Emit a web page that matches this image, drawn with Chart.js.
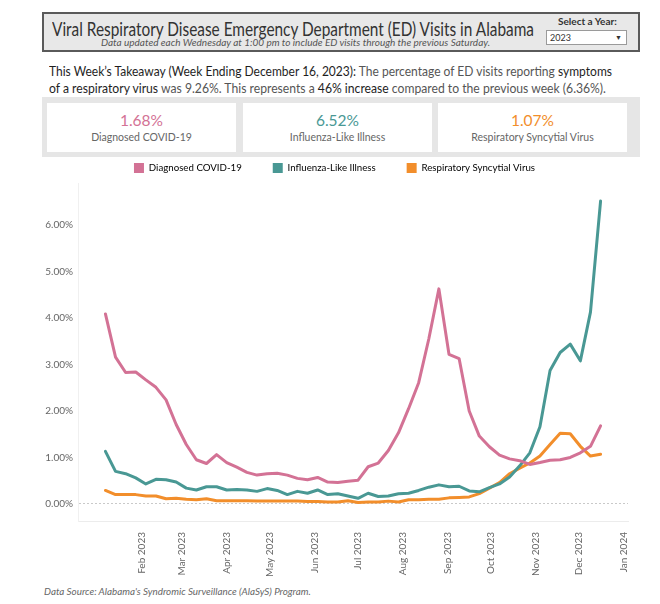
<!DOCTYPE html>
<html><head><meta charset="utf-8">
<script src="https://cdn.jsdelivr.net/npm/chart.js@4.4.1/dist/chart.umd.min.js"></script>
<style>
html,body{margin:0;padding:0;background:#fff;}
body{width:660px;height:604px;position:relative;overflow:hidden;font-family:Lato,"Noto Sans",sans-serif;}
.abs{position:absolute;white-space:nowrap;}
#hdr{left:42px;top:12px;width:594px;height:36px;background:#e8e8e8;border:2px solid #5a5a5a;}
#title{left:52px;top:18px;line-height:22px;font-size:18.5px;color:#333;transform-origin:0 50%;}
#sub{left:101px;top:37px;line-height:12px;font-size:9.5px;font-style:italic;color:#555;transform-origin:0 50%;}
#sel{left:558px;top:15px;line-height:12px;font-size:10px;font-weight:bold;color:#333;}
#dd{left:546px;top:30px;width:79px;height:13px;background:#fff;border:1px solid #9a9a9a;font-size:9px;line-height:13px;color:#333;}
#dd span{position:absolute;left:3px;}
#dd b{position:absolute;right:4px;font-size:7px;font-weight:normal;}
.tk{left:49px;line-height:17px;font-size:13.5px;color:#555;transform-origin:0 50%;}
.tk .d{color:#1e1e1e;}
#band{left:42px;top:97px;width:598px;height:60px;background:#e6e6e6;}
.box{top:103px;width:189px;height:49px;background:#fff;}
.num{position:absolute;left:0;width:100%;text-align:center;top:8px;line-height:18px;font-size:15.5px;}
.lab{position:absolute;left:0;width:100%;text-align:center;top:28px;line-height:12px;font-size:10.5px;color:#666;}
#foot{left:44px;top:585px;line-height:12px;font-size:9.5px;font-style:italic;color:#666;}
#cv{position:absolute;left:0;top:130px;}
</style></head>
<body>
<div id="hdr" class="abs"></div>
<div id="title" class="abs">Viral Respiratory Disease Emergency Department (ED) Visits in Alabama</div>
<div id="sub" class="abs">Data updated each Wednesday at 1:00 pm to include ED visits through the previous Saturday.</div>
<div id="sel" class="abs">Select a Year:</div>
<div id="dd" class="abs"><span>2023</span><b>&#9660;</b></div>
<div id="tk1" class="abs tk" style="top:63px;"><span class="d">This Week’s Takeaway (Week Ending December 16, 2023):</span> The percentage of ED visits reporting <span class="d">symptoms</span></div>
<div id="tk2" class="abs tk" style="top:80px;"><span class="d">of a respiratory virus</span> was 9.26%. This represents a <span class="d">46% increase</span> compared to the previous week (6.36%).</div>
<div id="band" class="abs"></div>
<div class="abs box" style="left:47px;"><div class="num" style="color:#D37295">1.68%</div><div class="lab">Diagnosed COVID-19</div></div>
<div class="abs box" style="left:243px;"><div class="num" style="color:#499894">6.52%</div><div class="lab">Influenza-Like Illness</div></div>
<div class="abs box" style="left:438px;"><div class="num" style="color:#F28E2B">1.07%</div><div class="lab">Respiratory Syncytial Virus</div></div>
<canvas id="cv" width="660" height="446"></canvas>
<div id="foot" class="abs">Data Source: Alabama's Syndromic Surveillance (AlaSyS) Program.</div>
<script>
// ---- data ----
const seriesNames = ['Diagnosed COVID-19', 'Influenza-Like Illness', 'Respiratory Syncytial Virus'];
const weekEnding = [
 '2023-01-07','2023-01-14','2023-01-21','2023-01-28',
 '2023-02-04','2023-02-11','2023-02-18','2023-02-25',
 '2023-03-04','2023-03-11','2023-03-18','2023-03-25',
 '2023-04-01','2023-04-08','2023-04-15','2023-04-22','2023-04-29',
 '2023-05-06','2023-05-13','2023-05-20','2023-05-27',
 '2023-06-03','2023-06-10','2023-06-17','2023-06-24',
 '2023-07-01','2023-07-08','2023-07-15','2023-07-22','2023-07-29',
 '2023-08-05','2023-08-12','2023-08-19','2023-08-26',
 '2023-09-02','2023-09-09','2023-09-16','2023-09-23','2023-09-30',
 '2023-10-07','2023-10-14','2023-10-21','2023-10-28',
 '2023-11-04','2023-11-11','2023-11-18','2023-11-25',
 '2023-12-02','2023-12-09','2023-12-16'];
const covid = [4.09,3.16,2.83,2.84,2.67,2.51,2.24,1.71,1.28,0.95,0.87,1.06,0.89,0.79,0.68,0.62,0.65,
 0.66,0.62,0.55,0.52,0.57,0.47,0.46,0.49,0.51,0.80,0.88,1.15,1.53,2.05,2.61,3.55,4.63,
 3.22,3.13,2.00,1.46,1.23,1.05,0.97,0.93,0.85,0.89,0.94,0.95,1.00,1.10,1.24,1.68];
const ili = [1.13,0.70,0.65,0.56,0.43,0.53,0.52,0.47,0.34,0.30,0.37,0.37,0.30,0.31,0.30,0.27,0.33,
 0.29,0.20,0.27,0.23,0.30,0.20,0.22,0.17,0.12,0.23,0.16,0.17,0.22,0.23,0.29,0.36,0.41,
 0.37,0.38,0.28,0.26,0.35,0.43,0.58,0.82,1.10,1.66,2.87,3.26,3.44,3.08,4.13,6.52];
const rsv = [0.29,0.20,0.20,0.20,0.17,0.17,0.11,0.12,0.10,0.09,0.11,0.07,0.07,0.07,0.07,0.06,0.06,
 0.06,0.06,0.06,0.05,0.05,0.04,0.04,0.07,0.03,0.04,0.04,0.06,0.04,0.09,0.09,0.10,0.10,
 0.13,0.14,0.15,0.22,0.34,0.46,0.65,0.77,0.88,1.03,1.28,1.52,1.51,1.24,1.03,1.07];
const monthTicks = ['2023-02-01','2023-03-01','2023-04-01','2023-05-01','2023-06-01','2023-07-01',
 '2023-08-01','2023-09-01','2023-10-01','2023-11-01','2023-12-01','2024-01-01'];
const monthNames = ['Jan','Feb','Mar','Apr','May','Jun','Jul','Aug','Sep','Oct','Nov','Dec'];
const yTicks = [0,1,2,3,4,5,6];
const colors = ['#D37295','#499894','#F28E2B'];

// ---- fit text widths (horizontal scale keeps the reference's letter height) ----
function fitX(id, w){const el=document.getElementById(id);const cur=el.getBoundingClientRect().width;el.style.transform='scaleX('+(w/cur)+')';}
function fit(id, w){const el=document.getElementById(id);const fs=parseFloat(getComputedStyle(el).fontSize);const cur=el.getBoundingClientRect().width;el.style.fontSize=(fs*w/cur)+'px';}
fitX('title',482); fitX('sub',389); fitX('tk1',563); fitX('tk2',557); fit('foot',267);

const toPts = arr => arr.map((v,i)=>({x:Date.parse(weekEnding[i]), y:v}));
const ds = [covid, ili, rsv].map((arr,i)=>({
  label: seriesNames[i], data: toPts(arr), borderColor: colors[i], backgroundColor: colors[i],
  borderWidth: 3, pointRadius: 0, tension: 0, borderJoinStyle: 'round', borderCapStyle: 'round'
}));

const tickFont = {family: 'Lato, "Noto Sans", sans-serif', size: 10};
new Chart(document.getElementById('cv'), {
  type: 'line',
  data: {datasets: ds},
  options: {
    responsive: false, animation: false, devicePixelRatio: 1,
    layout: {padding: {left: 41, right: 32, top: 2, bottom: 0}},
    plugins: {
      legend: {display: true, position: 'top', align: 'center',
        labels: {boxWidth: 10, boxHeight: 10, padding: 31, color: '#555', font: {family: 'Lato, "Noto Sans", sans-serif', size: 9.7},
          generateLabels: (chart) => chart.data.datasets.map((d,i)=>({text: d.label, fillStyle: colors[i], strokeStyle: colors[i], lineWidth: 0, datasetIndex: i}))}},
      tooltip: {enabled: false}
    },
    scales: {
      x: {type: 'linear', min: Date.UTC(2022,11,19), max: Date.UTC(2024,0,4),
        afterBuildTicks: (s) => { s.ticks = monthTicks.map(d => ({value: Date.parse(d)})); },
        afterFit: (s) => { s.height = 55; },
        ticks: {minRotation: 90, maxRotation: 90, autoSkip: false, padding: 3, color: '#666', font: tickFont,
          callback: (v) => { const d = new Date(v); return monthNames[d.getUTCMonth()] + ' ' + d.getUTCFullYear(); }},
        grid: {display: false},
        border: {display: true, color: '#ececec', width: 1}
      },
      y: {min: -0.368, max: 6.909,
        afterBuildTicks: (s) => { s.ticks = yTicks.map(v => ({value: v})); },
        afterFit: (s) => { s.width = 37; },
        ticks: {padding: 5, color: '#666', font: tickFont, callback: (v) => v.toFixed(2) + '%'},
        grid: {drawTicks: false, color: (c) => (c.tick && c.tick.value === 0) ? '#c9c9c9' : 'rgba(0,0,0,0)', lineWidth: 1},
        border: {display: true, color: '#f0f0f0', dash: [2,2]}
      }
    }
  }
});
</script>
</body></html>
